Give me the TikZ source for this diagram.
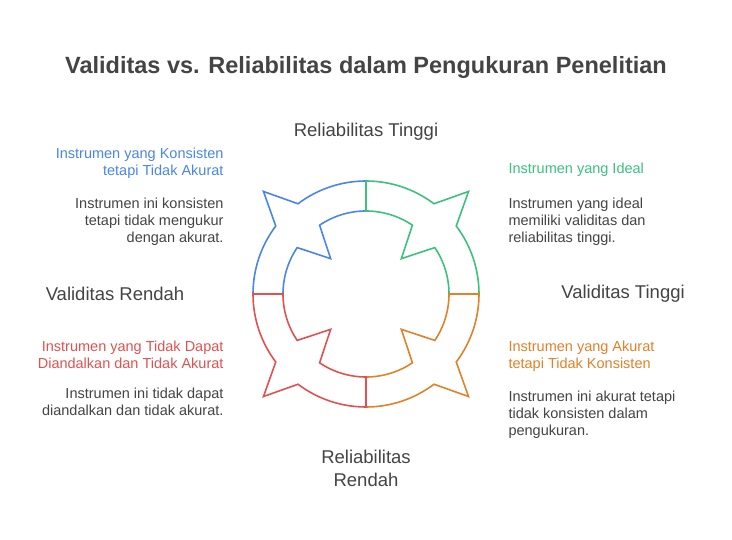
\documentclass[tikz,border=0pt]{standalone}
\usepackage{fontspec}
\setmainfont{Liberation Sans}
\definecolor{cblue}{HTML}{4A86E8}
\definecolor{cgreen}{HTML}{3DC17F}
\definecolor{cred}{HTML}{E05252}
\definecolor{corange}{HTML}{E0822A}
\definecolor{ctext}{HTML}{444444}
\begin{document}
\begin{tikzpicture}[x=1pt,y=-1pt,
  quad/.style={line width=1.6pt,line join=miter},
  lbl/.style={text=ctext,font=\fontsize{18.5}{23}\selectfont,align=center},
  headL/.style={font=\fontsize{14.5}{17}\selectfont,align=right,anchor=north east},
  bodyL/.style={text=ctext,font=\fontsize{14.5}{17}\selectfont,align=right,anchor=north east},
  headR/.style={font=\fontsize{14.5}{17}\selectfont,align=left,anchor=north west},
  bodyR/.style={text=ctext,font=\fontsize{14.5}{17}\selectfont,align=left,anchor=north west}]
\useasboundingbox[fill=white] (0,0) rectangle (732,540);
\newcommand{\quadpath}{(180:113pt) arc[start angle=180,end angle=143,radius=113pt] -- (135:145pt) -- (127:113pt) arc[start angle=127,end angle=90,radius=113pt] -- (90:83pt) arc[start angle=90,end angle=124,radius=83pt] -- (135:50pt) -- (146:83pt) arc[start angle=146,end angle=180,radius=83pt] -- cycle}
\begin{scope}[shift={(366,294)},y=1pt]
\draw[quad,cblue] \quadpath;
\draw[quad,cgreen,rotate=-90] \quadpath;
\draw[quad,corange,rotate=180] \quadpath;
\draw[quad,cred,rotate=90] \quadpath;
\end{scope}
\node[text=ctext,font=\bfseries\fontsize{23.5}{26}\selectfont] (title) at (366,67) {Validitas vs. Reliabilitas dalam Pengukuran Penelitian};
\node[lbl] (rt) at (366,132) {Reliabilitas Tinggi};
\node[lbl] (vr) at (115,294) {Validitas Rendah};
\node[lbl] (vt) at (623,294) {Validitas Tinggi};
\node[lbl] (rr) at (366,468) {Reliabilitas\\Rendah};
\node[headL,text=cblue] (h1) at (227,144) {Instrumen yang Konsisten\\tetapi Tidak Akurat};
\node[bodyL] (b1) at (227,194) {Instrumen ini konsisten\\tetapi tidak mengukur\\dengan akurat.};
\node[headL,text=cred] (h2) at (227,337) {Instrumen yang Tidak Dapat\\Diandalkan dan Tidak Akurat};
\node[bodyL] (b2) at (227,384) {Instrumen ini tidak dapat\\diandalkan dan tidak akurat.};
\node[headR,text=cgreen] (h3) at (505,159) {Instrumen yang Ideal};
\node[bodyR] (b3) at (505,194) {Instrumen yang ideal\\memiliki validitas dan\\reliabilitas tinggi.};
\node[headR,text=corange] (h4) at (505,337) {Instrumen yang Akurat\\tetapi Tidak Konsisten};
\node[bodyR] (b4) at (505,387) {Instrumen ini akurat tetapi\\tidak konsisten dalam\\pengukuran.};
\end{tikzpicture}
\end{document}
